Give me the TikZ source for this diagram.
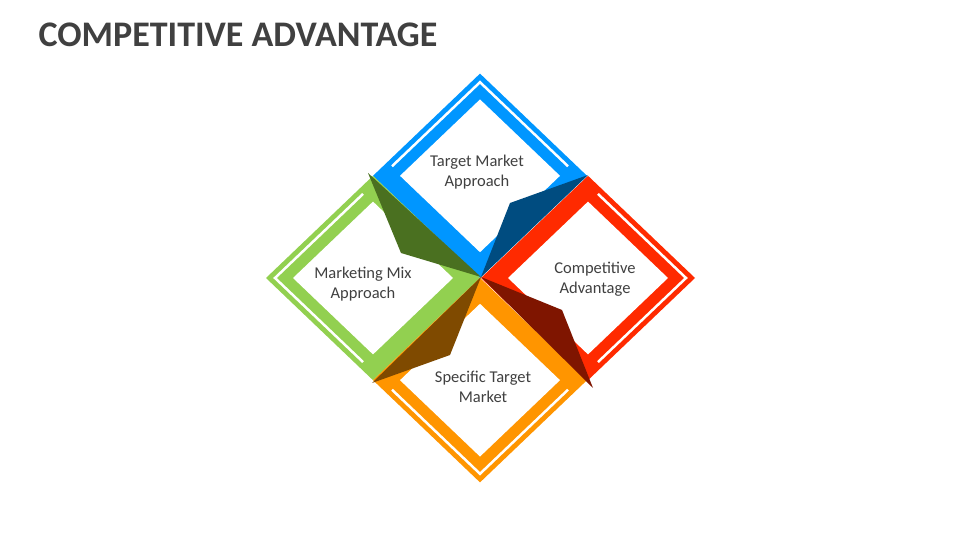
\documentclass[tikz,border=0pt]{standalone}
\usepackage{fontspec}
\setmainfont{Carlito}
\definecolor{cblue}{HTML}{0096FF}
\definecolor{cred}{HTML}{FF2A00}
\definecolor{cgreen}{HTML}{92D050}
\definecolor{corange}{HTML}{FF9500}
\definecolor{dblue}{HTML}{004C80}
\definecolor{dred}{HTML}{7F1500}
\definecolor{dgreen}{HTML}{4A7020}
\definecolor{dorange}{HTML}{7F4A00}
\definecolor{txt}{HTML}{404040}
\begin{document}
\begin{tikzpicture}[x=1pt,y=1pt,
  lbl/.style={text=txt,font=\fontsize{16.5}{20}\selectfont,align=center},
  title/.style={text=txt,font=\fontsize{36}{40}\selectfont\bfseries,anchor=west}]
\useasboundingbox (0,0) rectangle (960,540);
\fill[white] (0,0) rectangle (960,540);
\node[title] (t) at (35,505) {COMPETITIVE ADVANTAGE};
\def\R{107}
\begin{scope}[shift={(480,262)},yscale=0.955]
\foreach \cx/\cy/\ang/\col in {0/107/0/cblue, -107/0/90/cgreen, 0/-107/180/corange, 108/0/270/cred}{
  \begin{scope}[shift={(\cx,\cy)},rotate=\ang]
    \fill[\col] (0,\R) -- (\R,0) -- (0,-\R) -- (-\R,0) -- cycle;
    \fill[white] (0,80) -- (80,0) -- (0,-80) -- (-80,0) -- cycle;
    \draw[white,line width=2.5pt] (-88,{\R-97}) -- (0,{\R-9}) -- (88,{\R-97});
  \end{scope}
}
\end{scope}
\coordinate (c) at (481,263);
\fill[dblue] (c) -- (510,337) -- (588,365) -- cycle;
\fill[dred] (c) -- (562,230) -- (593,152) -- cycle;
\fill[dorange] (c) -- (450,185) -- (372,157) -- cycle;
\fill[dgreen] (c) -- (401,287) -- (368,367) -- cycle;
\node[lbl] (a) at (477,368) {Target Market\\Approach};
\node[lbl] (b) at (363,256) {Marketing Mix\\Approach};
\node[lbl] (d) at (595,261) {Competitive\\Advantage};
\node[lbl] (e) at (483,153) {Specific Target\\Market};
\end{tikzpicture}
\end{document}
